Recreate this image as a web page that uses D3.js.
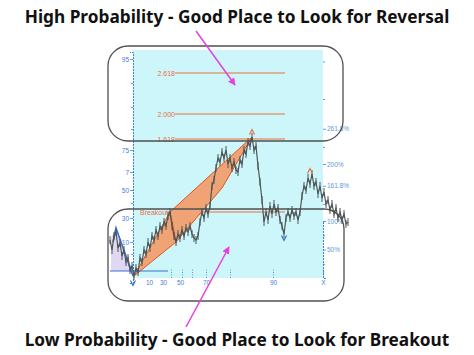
<!DOCTYPE html>
<html>
<head>
<meta charset="utf-8">
<script src="https://cdn.jsdelivr.net/npm/d3@7"></script>
<style>
  body { margin: 0; background: #fff; }
  svg { display: block; }
</style>
</head>
<body>
<svg id="chart" width="474" height="355"></svg>
<script>
// price closes, one bar every 2px
var closes = [43,33,47,51,35,40,27,33,21,25,13,17,7,15,11,25,21,33,29,41,
  35,47,43,53,47,57,53,61,57,67,71,57,47,41,49,45,53,47,55,51,
  57,49,45,43,47,61,71,65,75,69,77,97,103,115,125,121,131,125,133,119,
  125,115,121,113,111,123,119,133,129,141,137,146,133,137,117,101,83,61,71,63,
  77,69,79,71,75,63,57,49,65,71,65,73,67,71,63,71,87,97,93,105,
  99,109,97,101,89,97,85,91,79,83,73,79,69,75,65,71,63,69,59,61];

// left price axis
var leftTickVals = [224, 133, 111, 93, 65, 41];
var leftTickLabels = ["95", "75", "7", "50", "30", "10"];
var leftMinor = [200, 176, 154, 80, 53, 29, 17];

// right percent axis
var pctTicks = [261.8, 200, 161.8, 100, 50];
var pctLabels = ["261.8%", "200%", "161.8%", "100%", "50%"];
var pctMinor = [380, 314, 230, 130, 75, 25];

// bottom axis
var xTickVals = [19.5, 26.5, 35, 48, 81.5, 106.5];
var xTickLabels = ["10", "30", "50", "70", "90", "X"];
var xMinor = [30.5, 36, 41, 48, 60, 81.5, 106.5];

// fibonacci projection levels
var fibLabels = ["2.618", "2.000", "1.618", "Breakout"];
var fibPrices = [210, 169, 144, 71];

// harmonic pattern points [bar, price]
var patX = [12, 7], patA = [30, 71], patB = [33, 41], patC = [56, 95], patD = [71, 146];
// earlier swing drawn in blue
var swing = [[1.5, 41], [3, 55], [11.5, 7]];
var swingBase = 12;
var swingEnd = 29;

// turning point markers
var upMarks = [[71, 151], [100, 112]];
var downMarks = [[11.5, 0], [87, 45]];

var svg = d3.select("#chart");

var x = d3.scaleLinear().domain([0, closes.length - 1]).range([110, 348]);
var y = d3.scaleLinear().domain([0, 231]).range([283, 52]);
var pct = d3.scaleLinear().domain([0, 100]).range([y(5), y(62)]);

var orange = "#e8703c";
var axisBlue = "#3f7fd8";

// plot background
svg.append("rect")
  .attr("x", x(11.5)).attr("y", y(233))
  .attr("width", x(106.5) - x(11.5)).attr("height", y(5) - y(233))
  .attr("fill", "#cdf6fb");

// axes
var left = svg.append("g").attr("transform", "translate(" + x(11.5) + ",0)")
  .call(d3.axisLeft(y).tickValues(leftTickVals).tickFormat(function(d, i) { return leftTickLabels[i]; }).tickSize(3).tickPadding(1));
svg.append("g").attr("transform", "translate(" + x(11.5) + ",0)")
  .call(d3.axisLeft(y).tickValues(leftMinor).tickFormat("").tickSize(2));
var right = svg.append("g").attr("transform", "translate(" + x(106.5) + ",0)")
  .call(d3.axisRight(pct).tickValues(pctTicks).tickFormat(function(d, i) { return pctLabels[i]; }).tickSize(3).tickPadding(1));
svg.append("g").attr("transform", "translate(" + x(106.5) + ",0)")
  .call(d3.axisRight(pct).tickValues(pctMinor).tickFormat("").tickSize(2));
var bottom = svg.append("g").attr("class", "xaxis").attr("transform", "translate(0," + y(5) + ")")
  .call(d3.axisBottom(x).tickValues(xTickVals).tickFormat(function(d, i) { return xTickLabels[i]; }).tickSize(0).tickPadding(2));
var bottomTicks = svg.append("g").attr("class", "xaxis").attr("transform", "translate(0," + y(5) + ")")
  .call(d3.axisTop(x).tickValues(xMinor).tickFormat("").tickSize(9));

svg.selectAll(".domain").attr("stroke", axisBlue).attr("stroke-dasharray", "1,2");
svg.selectAll(".tick line").attr("stroke", axisBlue).attr("stroke-width", 0.8);
svg.selectAll(".xaxis .domain").remove();
svg.selectAll(".xaxis .tick line").attr("stroke-dasharray", "1,1.5");
svg.selectAll(".tick text").attr("fill", axisBlue).attr("font-family", "Liberation Sans, Arial, sans-serif").attr("font-size", 6.5);
right.selectAll(".tick text").attr("fill", "#5b98e0");

// purple swing zone
svg.append("path")
  .attr("d", d3.line()([[x(0.5), y(swingBase)], [x(0.5), y(45)], [x(swing[1][0]), y(swing[1][1])], [x(swing[2][0]), y(swingBase)]]))
  .attr("fill", "#dcd4f2").attr("opacity", 0.9);

// fib lines
fibPrices.forEach(function(p, i) {
  var x0 = i === 3 ? x(29) : x(32.5);
  svg.append("line").attr("x1", x0).attr("x2", x(87.5)).attr("y1", y(p)).attr("y2", y(p))
    .attr("stroke", orange).attr("stroke-width", 1);
  svg.append("text").attr("x", i === 3 ? x(15) : x(32.5)).attr("y", y(p) + 2.5)
    .attr("text-anchor", i === 3 ? "start" : "end")
    .attr("fill", orange).attr("font-family", "Liberation Sans, Arial, sans-serif").attr("font-size", 7)
    .text(fibLabels[i]);
});

// harmonic shading
var pat = [patX, patA, patD, patC, patB].map(function(d) { return [x(d[0]), y(d[1])]; });
svg.append("path").attr("d", d3.line()(pat) + "Z")
  .attr("fill", "#f0a476").attr("stroke", "#e4541e").attr("stroke-width", 1);
svg.append("path").attr("d", d3.line()([patA, patB].map(function(d) { return [x(d[0]), y(d[1])]; })))
  .attr("fill", "none").attr("stroke", "#e0401a").attr("stroke-width", 1.2);

// blue swing
svg.append("path").attr("d", d3.line()(swing.map(function(d) { return [x(d[0]), y(d[1])]; })))
  .attr("fill", "none").attr("stroke", "#3b6fd6").attr("stroke-width", 1.6);
svg.append("line").attr("x1", x(0)).attr("x2", x(swingEnd)).attr("y1", y(swingBase)).attr("y2", y(swingBase))
  .attr("stroke", "#3b6fd6").attr("stroke-width", 1.2);

// price bars + line
svg.append("g").selectAll("line").data(closes).join("line")
  .attr("x1", function(d, i) { return x(i); }).attr("x2", function(d, i) { return x(i); })
  .attr("y1", function(d) { return y(d + 4); }).attr("y2", function(d) { return y(d - 4); })
  .attr("stroke", "#4d5656").attr("stroke-width", 1);
svg.append("path").datum(closes)
  .attr("d", d3.line().x(function(d, i) { return x(i); }).y(function(d) { return y(d); }))
  .attr("fill", "none").attr("stroke", "#4d5656").attr("stroke-width", 1.2);

// markers
upMarks.forEach(function(d) {
  var cx = x(d[0]), cy = y(d[1]);
  svg.append("path").attr("d", "M" + (cx - 2.5) + "," + (cy + 2.5) + "L" + cx + "," + (cy - 2.5) + "L" + (cx + 2.5) + "," + (cy + 2.5))
    .attr("fill", "none").attr("stroke", orange).attr("stroke-width", 1.2);
});
downMarks.forEach(function(d) {
  var cx = x(d[0]), cy = y(d[1]);
  svg.append("path").attr("d", "M" + (cx - 2.5) + "," + (cy - 2.5) + "L" + cx + "," + (cy + 2.5) + "L" + (cx + 2.5) + "," + (cy - 2.5))
    .attr("fill", "none").attr("stroke", "#3b6fd6").attr("stroke-width", 1.2);
});

// rounded highlight boxes
svg.append("rect").attr("x", 108).attr("y", 46).attr("width", 235).attr("height", 95).attr("rx", 20)
  .attr("fill", "none").attr("stroke", "#505050").attr("stroke-width", 1.3);
svg.append("rect").attr("x", 108).attr("y", 209).attr("width", 236).attr("height", 92).attr("rx", 20)
  .attr("fill", "none").attr("stroke", "#505050").attr("stroke-width", 1.3);

// arrows
var defs = svg.append("defs");
defs.append("marker").attr("id", "head").attr("viewBox", "0 0 10 10").attr("refX", 9).attr("refY", 5)
  .attr("markerWidth", 5).attr("markerHeight", 5).attr("orient", "auto")
  .append("path").attr("d", "M0,0L10,5L0,10Z").attr("fill", "#e53fe5");
svg.append("line").attr("x1", 196).attr("y1", 31).attr("x2", 235).attr("y2", 85)
  .attr("stroke", "#e53fe5").attr("stroke-width", 1.5).attr("marker-end", "url(#head)");
svg.append("line").attr("x1", 186).attr("y1", 327).attr("x2", 229).attr("y2", 247)
  .attr("stroke", "#e53fe5").attr("stroke-width", 1.5).attr("marker-end", "url(#head)");

// titles
function title(txt, cy) {
  var t = svg.append("text").attr("x", 237).attr("y", cy).attr("text-anchor", "middle")
    .attr("font-family", "Noto Sans, sans-serif").attr("font-weight", "bold").attr("font-size", 16)
    .attr("fill", "#111").text(txt);
  var w = t.node().getComputedTextLength();
  t.attr("font-size", 16 * 425 / w);
}
title("High Probability - Good Place to Look for Reversal", 23);
title("Low Probability - Good Place to Look for Breakout", 346);
</script>
</body>
</html>
